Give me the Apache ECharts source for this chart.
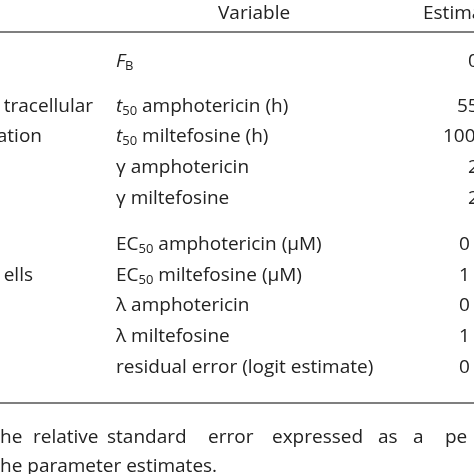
<!DOCTYPE html>
<html>
<head>
<meta charset="utf-8">
<script src="https://cdn.jsdelivr.net/npm/echarts@6/dist/echarts.min.js"></script>
<style>html,body{margin:0;padding:0;background:#fff}#main{width:474px;height:474px}</style>
</head>
<body>
<div id="main"></div>
<script>
// table rows (cropped view of the original)
var variables = ['{i|F}{s|B}', '{i|t}{s|50} amphotericin (h)', '{i|t}{s|50} miltefosine (h)', 'γ amphotericin', 'γ miltefosine',
  'EC{s|50} amphotericin (μM)', 'EC{s|50} miltefosine (μM)', 'λ amphotericin', 'λ miltefosine', 'residual error (logit estimate)'];
var rowY = [62, 107, 137, 168, 199, 245, 276, 306, 337, 368];
var estimates = ['0', '55', '100', '2', '2', '0', '1', '0', '1', '0'];
var estimateX = [468, 457, 443, 468, 468, 459, 459, 459, 459, 459];
var groups = [['tracellular', 93, 107], ['ation', 42, 137], ['ells', 33, 276]];
var footWords = ['he', 'relative', 'standard', 'error', 'expressed', 'as', 'a', 'pe'];
var footWordX = [0, 33, 107, 208, 272, 378, 413, 445];
var footLine2 = 'he parameter estimates.';

var chart = echarts.init(document.getElementById('main'));
var font = '"Open Sans", sans-serif';
var col = '#222';
var fs = 19;
function txt(t, x, y, extra) {
  var st = { text: t, fontSize: fs, fontFamily: font, fill: col, verticalAlign: 'middle' };
  for (var k in extra) st[k] = extra[k];
  return { type: 'text', x: x, y: y, style: st };
}
var rich = {
  n: { fontSize: fs, fontFamily: font, fill: col },
  i: { fontStyle: 'italic', fontSize: fs, fontFamily: font, fill: col },
  s: { fontSize: 13, fontFamily: font, fill: col, padding: [9, 0, 0, 0] }
};
var g = [];
g.push(txt('Variable', 218, 14));
g.push(txt('Estimate', 423, 14));
g.push({ type: 'line', shape: { x1: 0, y1: 32, x2: 474, y2: 32 }, style: { stroke: '#555', lineWidth: 1.5 } });
g.push({ type: 'line', shape: { x1: 0, y1: 403, x2: 474, y2: 403 }, style: { stroke: '#555', lineWidth: 1.5 } });
variables.forEach(function (v, k) {
  g.push(txt(v, 116, rowY[k], { rich: rich }));
  g.push(txt(estimates[k], estimateX[k], rowY[k]));
});
groups.forEach(function (d) {
  g.push(txt(d[0], d[1], d[2], { align: 'right' }));
});
footWords.forEach(function (w, k) {
  g.push(txt(w, footWordX[k], 438));
});
g.push(txt(footLine2, 0, 467));
chart.setOption({ backgroundColor: '#fff', graphic: g });
</script>
</body>
</html>
